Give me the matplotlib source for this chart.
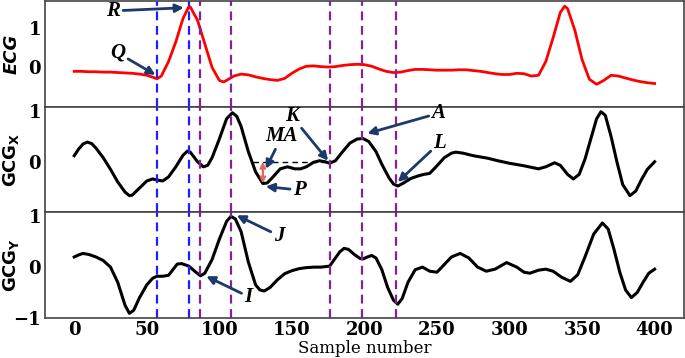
import matplotlib.pyplot as plt

# ECG
ecg_x = [0, 5, 10, 15, 20, 25, 30, 35, 40, 45, 50, 55, 57, 60, 65, 70, 75, 79, 80, 85,
         90, 95, 100, 103, 105, 110, 115, 120, 125, 130, 135, 140, 145, 150, 155, 160,
         165, 170, 175, 180, 185, 190, 195, 200, 205, 210, 215, 220, 225, 230, 235, 240,
         245, 250, 255, 260, 265, 270, 275, 280, 285, 290, 295, 300, 305, 310, 315, 320,
         325, 330, 335, 338, 340, 345, 350, 355, 360, 365, 370, 375, 380, 385, 390, 395, 400]
ecg_y = [-0.10, -0.10, -0.11, -0.11, -0.12, -0.12, -0.13, -0.14, -0.15, -0.17, -0.20, -0.26,
         -0.29, -0.22, 0.15, 0.65, 1.25, 1.55, 1.54, 1.20, 0.60, 0.00, -0.33, -0.37, -0.33,
         -0.22, -0.17, -0.19, -0.24, -0.28, -0.31, -0.33, -0.28, -0.15, -0.04, 0.03, 0.04,
         0.02, 0.01, 0.02, 0.05, 0.07, 0.08, 0.07, 0.03, -0.04, -0.10, -0.13, -0.12, -0.08,
         -0.05, -0.05, -0.06, -0.07, -0.07, -0.07, -0.06, -0.06, -0.08, -0.10, -0.13, -0.16,
         -0.18, -0.18, -0.15, -0.16, -0.22, -0.20, 0.15, 0.75, 1.40, 1.56, 1.50, 0.95, 0.20,
         -0.30, -0.43, -0.33, -0.20, -0.22, -0.27, -0.32, -0.36, -0.39, -0.41]

# GCG X
gx_x = [0, 3, 6, 9, 12, 15, 20, 25, 30, 35, 38, 40, 45, 50, 54, 57, 61, 65, 70, 75, 78, 80,
        85, 89, 92, 95, 100, 105, 109, 112, 115, 120, 125, 130, 133, 137, 142, 147, 152, 156,
        160, 165, 169, 173, 176, 180, 185, 190, 195, 199, 203, 208, 212, 217, 220, 223, 227,
        232, 237, 241, 245, 250, 255, 260, 263, 268, 275, 285, 292, 300, 310, 315, 320, 325,
        331, 335, 340, 344, 348, 352, 356, 360, 363, 366, 370, 374, 378, 383, 387, 391, 395, 400]
gx_y = [0.12, 0.25, 0.35, 0.39, 0.36, 0.27, 0.08, -0.15, -0.40, -0.60, -0.67, -0.66, -0.52,
        -0.38, -0.34, -0.36, -0.38, -0.30, -0.10, 0.13, 0.21, 0.19, 0.00, -0.10, -0.07, 0.08,
        0.45, 0.85, 0.97, 0.90, 0.70, 0.20, -0.20, -0.43, -0.42, -0.30, -0.14, -0.10, -0.14,
        -0.14, -0.10, -0.01, 0.02, 0.00, -0.03, 0.02, 0.20, 0.37, 0.45, 0.46, 0.40, 0.20,
        -0.05, -0.32, -0.44, -0.48, -0.42, -0.33, -0.28, -0.25, -0.23, -0.08, 0.08, 0.17,
        0.19, 0.17, 0.12, 0.07, 0.02, -0.03, -0.08, -0.11, -0.14, -0.10, -0.02, -0.07, -0.25,
        -0.34, -0.25, 0.05, 0.45, 0.85, 0.99, 0.92, 0.50, 0.00, -0.45, -0.67, -0.58, -0.35,
        -0.15, 0.00]

# GCG Y
gy_x = [0, 3, 6, 10, 15, 20, 25, 30, 35, 38, 41, 45, 50, 54, 57, 61, 65, 68, 71, 74, 79, 83,
        87, 90, 95, 100, 105, 108, 111, 115, 120, 125, 128, 131, 135, 140, 145, 150, 155, 160,
        165, 170, 176, 180, 183, 186, 189, 193, 197, 199, 202, 205, 208, 212, 216, 220, 223,
        226, 230, 235, 240, 245, 250, 255, 260, 266, 272, 278, 284, 290, 298, 305, 310, 314,
        320, 325, 330, 336, 342, 347, 352, 358, 364, 368, 372, 376, 380, 384, 388, 392, 396, 400]
gy_y = [0.20, 0.24, 0.27, 0.25, 0.20, 0.13, 0.00, -0.30, -0.75, -0.91, -0.85, -0.60, -0.35,
        -0.22, -0.18, -0.18, -0.16, -0.05, 0.06, 0.07, 0.02, -0.08, -0.17, -0.12, 0.15, 0.55,
        0.90, 1.00, 0.95, 0.70, 0.10, -0.35, -0.45, -0.47, -0.40, -0.25, -0.13, -0.07, -0.03,
        -0.01, 0.00, 0.00, 0.02, 0.18, 0.30, 0.37, 0.35, 0.25, 0.17, 0.16, 0.20, 0.23, 0.18,
        -0.05, -0.40, -0.65, -0.73, -0.62, -0.30, -0.05, 0.00, -0.08, -0.10, 0.05, 0.20, 0.27,
        0.18, 0.00, -0.08, -0.04, 0.09, 0.00, -0.10, -0.12, -0.06, -0.04, -0.08, -0.20, -0.28,
        -0.15, 0.20, 0.65, 0.87, 0.75, 0.35, -0.10, -0.45, -0.60, -0.50, -0.30, -0.12, -0.04]

blue_lines = [57, 79]
purple_lines = [87, 108, 176, 198, 222]
xticks = [0, 50, 100, 150, 200, 250, 300, 350, 400]

plt.rcParams['mathtext.fontset'] = 'custom'
plt.rcParams['mathtext.bf'] = 'DejaVu Sans:bold'

navy = '#1b3a6b'
ann_font = dict(family='Liberation Serif', fontsize=15, fontweight='bold', fontstyle='italic')
arrow = dict(arrowstyle='-|>', color=navy, lw=2, mutation_scale=12, shrinkA=0, shrinkB=0)


def annotate(ax, label, tip, txt):
    ax.annotate(label, xy=tip, xytext=txt, ha='center', va='center',
                arrowprops=arrow, **ann_font)


fig = plt.figure(figsize=(6.85, 3.58), dpi=100)
gs = fig.add_gridspec(3, 1, left=0.066, right=0.998, top=0.997, bottom=0.112, hspace=0)
axes = [fig.add_subplot(gs[i]) for i in range(3)]

axes[0].plot(ecg_x, ecg_y, color='red', lw=2)
axes[1].plot(gx_x, gx_y, color='black', lw=2.2)
axes[2].plot(gy_x, gy_y, color='black', lw=2.2)

axes[0].set_ylim(-0.54, 1.69)
axes[1].set_ylim(-0.77, 1.09)
axes[2].set_ylim(-1.0, 1.08)

for ax in axes:
    ax.set_xlim(-20, 420)
    for v in blue_lines:
        ax.axvline(v, color='#1f1fff', ls='--', lw=1.6, dashes=(4, 2.5))
    for v in purple_lines:
        ax.axvline(v, color='#8a1e9a', ls='--', lw=1.6, dashes=(4, 2.5))
    ax.set_yticks([-1, 0, 1])
    ax.tick_params(length=0, labelsize=13, pad=3)
    for lab in ax.get_yticklabels():
        lab.set_fontfamily('DejaVu Serif')
        lab.set_fontweight('bold')
    for s in ax.spines.values():
        s.set_color('#444444')
        s.set_linewidth(1.2)

axes[0].set_yticks([0, 1])
axes[1].set_yticks([0, 1])
for ax in axes[:2]:
    ax.set_xticks([])
axes[2].set_xticks(xticks)
axes[2].tick_params(axis='x', pad=2)
for lab in axes[2].get_xticklabels():
    lab.set_fontfamily('DejaVu Serif')
    lab.set_fontweight('bold')
axes[2].set_xlabel('Sample number', family='DejaVu Serif', fontsize=12)
axes[2].xaxis.set_label_coords(0.5, -0.205)

axes[0].set_ylabel('ECG', fontsize=13, fontweight='bold', fontstyle='italic')
axes[1].set_ylabel(r'$\mathbf{GCG_X}$', fontsize=13)
axes[2].set_ylabel(r'$\mathbf{GCG_Y}$', fontsize=13)
for ax in axes:
    ax.yaxis.set_label_coords(-0.038, 0.5)

# ECG annotations
annotate(axes[0], 'R', (75.5, 1.52), (27, 1.44))
annotate(axes[0], 'Q', (56, -0.19), (30, 0.37))

# GCG X annotations
axes[1].plot([123, 176], [0, 0], color='black', ls='--', lw=1, dashes=(4, 3))
axes[1].annotate('', xy=(130, 0.0), xytext=(130, -0.43),
                 arrowprops=dict(arrowstyle='<|-|>', color='#e06a5c', lw=1.6,
                                 mutation_scale=8, shrinkA=0, shrinkB=0))
annotate(axes[1], 'MA', (132, -0.14), (143, 0.5))
annotate(axes[1], 'P', (132, -0.49), (155, -0.56))
annotate(axes[1], 'K', (175, 0.02), (150, 0.9))
annotate(axes[1], 'A', (202, 0.56), (251, 0.96))
annotate(axes[1], 'L', (223, -0.40), (252, 0.38))

# GCG Y annotations
annotate(axes[2], 'J', (112, 1.02), (141, 0.62))
annotate(axes[2], 'I', (91, -0.18), (120, -0.58))

fig.savefig('out.png', dpi=100)
